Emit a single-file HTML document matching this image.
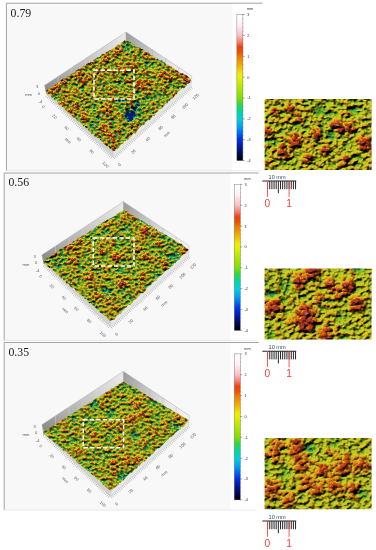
<!DOCTYPE html>
<html><head><meta charset="utf-8"><title>Surface topography</title>
<style>
html,body{margin:0;padding:0;background:#fff;}
body{width:376px;height:550px;overflow:hidden;font-family:"Liberation Sans",sans-serif;}
svg{display:block;}
.lab{font-family:"Liberation Serif",serif;font-size:11.8px;fill:#1c1c1c;}
.tk{font-family:"Liberation Sans",sans-serif;font-size:4.1px;fill:#5a5a5a;}
.cb{font-family:"Liberation Sans",sans-serif;font-size:3.8px;fill:#333;}
.mm{font-family:"Liberation Sans",sans-serif;font-size:5.6px;fill:#2c4f5e;}
.rd{font-family:"Liberation Sans",sans-serif;font-size:10.2px;fill:#ee4040;}
</style></head><body>
<svg width="376" height="550" viewBox="0 0 376 550">
<defs>
<linearGradient id="cbar" x1="0" y1="0" x2="0" y2="1">
<stop offset="0.000" stop-color="#ffffff"/>
<stop offset="0.071" stop-color="#fff0f0"/>
<stop offset="0.143" stop-color="#fbc0c0"/>
<stop offset="0.186" stop-color="#f68070"/>
<stop offset="0.221" stop-color="#f04010"/>
<stop offset="0.257" stop-color="#f05000"/>
<stop offset="0.286" stop-color="#f07800"/>
<stop offset="0.357" stop-color="#f0b800"/>
<stop offset="0.400" stop-color="#f0e800"/>
<stop offset="0.429" stop-color="#e8f000"/>
<stop offset="0.500" stop-color="#b0e800"/>
<stop offset="0.571" stop-color="#80e000"/>
<stop offset="0.614" stop-color="#30d840"/>
<stop offset="0.664" stop-color="#00d8a0"/>
<stop offset="0.714" stop-color="#00d0e0"/>
<stop offset="0.771" stop-color="#00a0f0"/>
<stop offset="0.829" stop-color="#0050f0"/>
<stop offset="0.857" stop-color="#0030e0"/>
<stop offset="0.929" stop-color="#001080"/>
<stop offset="1.000" stop-color="#000000"/>
</linearGradient>
<radialGradient id="pk"><stop offset="0" stop-color="#fff" stop-opacity="1"/><stop offset="0.5" stop-color="#fff" stop-opacity="0.55"/><stop offset="1" stop-color="#fff" stop-opacity="0"/></radialGradient>
<radialGradient id="vl"><stop offset="0" stop-color="#000" stop-opacity="1"/><stop offset="0.5" stop-color="#000" stop-opacity="0.55"/><stop offset="1" stop-color="#000" stop-opacity="0"/></radialGradient>
<radialGradient id="pt"><stop offset="0" stop-color="#000" stop-opacity="1"/><stop offset="0.6" stop-color="#000" stop-opacity="1"/><stop offset="1" stop-color="#000" stop-opacity="0"/></radialGradient>
<radialGradient id="pit"><stop offset="0" stop-color="#0a2a90"/><stop offset="0.45" stop-color="#1060b0" stop-opacity="0.95"/><stop offset="0.8" stop-color="#10a0a0" stop-opacity="0.5"/><stop offset="1" stop-color="#20b080" stop-opacity="0"/></radialGradient>
<radialGradient id="teal"><stop offset="0" stop-color="#10a0a0" stop-opacity="0.9"/><stop offset="1" stop-color="#30b060" stop-opacity="0"/></radialGradient>

<filter id="s0" x="0" y="0" width="1" height="1" color-interpolation-filters="sRGB">
<feTurbulence type="fractalNoise" baseFrequency="0.33 0.40" numOctaves="3" seed="3" result="n1"/>
<feTurbulence type="fractalNoise" baseFrequency="0.06 0.075" numOctaves="2" seed="10" result="n2"/>
<feColorMatrix in="n1" type="matrix" values="1 0 0 0 0  1 0 0 0 0  1 0 0 0 0  0 0 0 0 1" result="g1"/>
<feColorMatrix in="n2" type="matrix" values="1 0 0 0 0  1 0 0 0 0  1 0 0 0 0  0 0 0 0 1" result="g2"/>
<feComposite in="g1" in2="g2" operator="arithmetic" k1="0" k2="1.15" k3="0.45" k4="-0.345" result="ha"/>
<feComposite in="ha" in2="SourceGraphic" operator="arithmetic" k1="0" k2="1" k3="1.0" k4="-0.500" result="h"/>
<feComponentTransfer in="h" result="c">
<feFuncR type="table" tableValues="0.020 0.039 0.157 0.431 0.706 0.839 0.886 0.784 0.686 0.706 0.824"/>
<feFuncG type="table" tableValues="0.137 0.588 0.667 0.725 0.784 0.816 0.588 0.282 0.188 0.275 0.510"/>
<feFuncB type="table" tableValues="0.549 0.588 0.333 0.176 0.137 0.125 0.110 0.098 0.118 0.275 0.510"/>
<feFuncA type="linear" slope="0" intercept="1"/>
</feComponentTransfer>
<feColorMatrix in="h" type="matrix" values="0 0 0 0 0  0 0 0 0 0  0 0 0 0 0  1 0 0 0 0" result="bump"/>
<feDiffuseLighting in="bump" surfaceScale="2.3" diffuseConstant="1.16" lighting-color="#ffffff" result="l">
<feDistantLight azimuth="250" elevation="47"/>
</feDiffuseLighting>
<feComposite in="c" in2="l" operator="arithmetic" k1="1" k2="0" k3="0" k4="0" result="m"/>
<feGaussianBlur in="m" stdDeviation="0.5"/>
</filter>
<filter id="z0" x="0" y="0" width="1" height="1" color-interpolation-filters="sRGB">
<feTurbulence type="fractalNoise" baseFrequency="0.20 0.25" numOctaves="3" seed="53" result="n1"/>
<feTurbulence type="fractalNoise" baseFrequency="0.05 0.06" numOctaves="2" seed="60" result="n2"/>
<feColorMatrix in="n1" type="matrix" values="1 0 0 0 0  1 0 0 0 0  1 0 0 0 0  0 0 0 0 1" result="g1"/>
<feColorMatrix in="n2" type="matrix" values="1 0 0 0 0  1 0 0 0 0  1 0 0 0 0  0 0 0 0 1" result="g2"/>
<feComposite in="g1" in2="g2" operator="arithmetic" k1="0" k2="0.598" k3="0.18000000000000002" k4="0.081" result="ha"/>
<feComposite in="ha" in2="SourceGraphic" operator="arithmetic" k1="0" k2="1" k3="0.7" k4="-0.350" result="h"/>
<feComponentTransfer in="h" result="c">
<feFuncR type="table" tableValues="0.020 0.039 0.157 0.431 0.706 0.839 0.886 0.784 0.686 0.706 0.824"/>
<feFuncG type="table" tableValues="0.137 0.588 0.667 0.725 0.784 0.816 0.588 0.282 0.188 0.275 0.510"/>
<feFuncB type="table" tableValues="0.549 0.588 0.333 0.176 0.137 0.125 0.110 0.098 0.118 0.275 0.510"/>
<feFuncA type="linear" slope="0" intercept="1"/>
</feComponentTransfer>
<feColorMatrix in="h" type="matrix" values="0 0 0 0 0  0 0 0 0 0  0 0 0 0 0  1 0 0 0 0" result="bump"/>
<feDiffuseLighting in="bump" surfaceScale="6.6" diffuseConstant="1.22" lighting-color="#ffffff" result="l">
<feDistantLight azimuth="235" elevation="47"/>
</feDiffuseLighting>
<feComposite in="c" in2="l" operator="arithmetic" k1="1" k2="0" k3="0" k4="0" result="m"/>
<feGaussianBlur in="m" stdDeviation="0.55"/>
</filter>
<filter id="s1" x="0" y="0" width="1" height="1" color-interpolation-filters="sRGB">
<feTurbulence type="fractalNoise" baseFrequency="0.33 0.40" numOctaves="3" seed="11" result="n1"/>
<feTurbulence type="fractalNoise" baseFrequency="0.06 0.075" numOctaves="2" seed="18" result="n2"/>
<feColorMatrix in="n1" type="matrix" values="1 0 0 0 0  1 0 0 0 0  1 0 0 0 0  0 0 0 0 1" result="g1"/>
<feColorMatrix in="n2" type="matrix" values="1 0 0 0 0  1 0 0 0 0  1 0 0 0 0  0 0 0 0 1" result="g2"/>
<feComposite in="g1" in2="g2" operator="arithmetic" k1="0" k2="1.05" k3="0.42" k4="-0.295" result="ha"/>
<feComposite in="ha" in2="SourceGraphic" operator="arithmetic" k1="0" k2="1" k3="1.0" k4="-0.500" result="h"/>
<feComponentTransfer in="h" result="c">
<feFuncR type="table" tableValues="0.020 0.039 0.157 0.431 0.706 0.839 0.886 0.784 0.686 0.706 0.824"/>
<feFuncG type="table" tableValues="0.137 0.588 0.667 0.725 0.784 0.816 0.588 0.282 0.188 0.275 0.510"/>
<feFuncB type="table" tableValues="0.549 0.588 0.333 0.176 0.137 0.125 0.110 0.098 0.118 0.275 0.510"/>
<feFuncA type="linear" slope="0" intercept="1"/>
</feComponentTransfer>
<feColorMatrix in="h" type="matrix" values="0 0 0 0 0  0 0 0 0 0  0 0 0 0 0  1 0 0 0 0" result="bump"/>
<feDiffuseLighting in="bump" surfaceScale="2.3" diffuseConstant="1.16" lighting-color="#ffffff" result="l">
<feDistantLight azimuth="250" elevation="47"/>
</feDiffuseLighting>
<feComposite in="c" in2="l" operator="arithmetic" k1="1" k2="0" k3="0" k4="0" result="m"/>
<feGaussianBlur in="m" stdDeviation="0.5"/>
</filter>
<filter id="z1" x="0" y="0" width="1" height="1" color-interpolation-filters="sRGB">
<feTurbulence type="fractalNoise" baseFrequency="0.20 0.25" numOctaves="3" seed="61" result="n1"/>
<feTurbulence type="fractalNoise" baseFrequency="0.05 0.06" numOctaves="2" seed="68" result="n2"/>
<feColorMatrix in="n1" type="matrix" values="1 0 0 0 0  1 0 0 0 0  1 0 0 0 0  0 0 0 0 1" result="g1"/>
<feColorMatrix in="n2" type="matrix" values="1 0 0 0 0  1 0 0 0 0  1 0 0 0 0  0 0 0 0 1" result="g2"/>
<feComposite in="g1" in2="g2" operator="arithmetic" k1="0" k2="0.546" k3="0.168" k4="0.108" result="ha"/>
<feComposite in="ha" in2="SourceGraphic" operator="arithmetic" k1="0" k2="1" k3="0.7" k4="-0.350" result="h"/>
<feComponentTransfer in="h" result="c">
<feFuncR type="table" tableValues="0.020 0.039 0.157 0.431 0.706 0.839 0.886 0.784 0.686 0.706 0.824"/>
<feFuncG type="table" tableValues="0.137 0.588 0.667 0.725 0.784 0.816 0.588 0.282 0.188 0.275 0.510"/>
<feFuncB type="table" tableValues="0.549 0.588 0.333 0.176 0.137 0.125 0.110 0.098 0.118 0.275 0.510"/>
<feFuncA type="linear" slope="0" intercept="1"/>
</feComponentTransfer>
<feColorMatrix in="h" type="matrix" values="0 0 0 0 0  0 0 0 0 0  0 0 0 0 0  1 0 0 0 0" result="bump"/>
<feDiffuseLighting in="bump" surfaceScale="6.6" diffuseConstant="1.22" lighting-color="#ffffff" result="l">
<feDistantLight azimuth="235" elevation="47"/>
</feDiffuseLighting>
<feComposite in="c" in2="l" operator="arithmetic" k1="1" k2="0" k3="0" k4="0" result="m"/>
<feGaussianBlur in="m" stdDeviation="0.55"/>
</filter>
<filter id="s2" x="0" y="0" width="1" height="1" color-interpolation-filters="sRGB">
<feTurbulence type="fractalNoise" baseFrequency="0.33 0.40" numOctaves="3" seed="23" result="n1"/>
<feTurbulence type="fractalNoise" baseFrequency="0.06 0.075" numOctaves="2" seed="30" result="n2"/>
<feColorMatrix in="n1" type="matrix" values="1 0 0 0 0  1 0 0 0 0  1 0 0 0 0  0 0 0 0 1" result="g1"/>
<feColorMatrix in="n2" type="matrix" values="1 0 0 0 0  1 0 0 0 0  1 0 0 0 0  0 0 0 0 1" result="g2"/>
<feComposite in="g1" in2="g2" operator="arithmetic" k1="0" k2="0.95" k3="0.36" k4="-0.230" result="ha"/>
<feComposite in="ha" in2="SourceGraphic" operator="arithmetic" k1="0" k2="1" k3="1.0" k4="-0.500" result="h"/>
<feComponentTransfer in="h" result="c">
<feFuncR type="table" tableValues="0.020 0.039 0.157 0.431 0.706 0.839 0.886 0.784 0.686 0.706 0.824"/>
<feFuncG type="table" tableValues="0.137 0.588 0.667 0.725 0.784 0.816 0.588 0.282 0.188 0.275 0.510"/>
<feFuncB type="table" tableValues="0.549 0.588 0.333 0.176 0.137 0.125 0.110 0.098 0.118 0.275 0.510"/>
<feFuncA type="linear" slope="0" intercept="1"/>
</feComponentTransfer>
<feColorMatrix in="h" type="matrix" values="0 0 0 0 0  0 0 0 0 0  0 0 0 0 0  1 0 0 0 0" result="bump"/>
<feDiffuseLighting in="bump" surfaceScale="2.3" diffuseConstant="1.16" lighting-color="#ffffff" result="l">
<feDistantLight azimuth="250" elevation="47"/>
</feDiffuseLighting>
<feComposite in="c" in2="l" operator="arithmetic" k1="1" k2="0" k3="0" k4="0" result="m"/>
<feGaussianBlur in="m" stdDeviation="0.5"/>
</filter>
<filter id="z2" x="0" y="0" width="1" height="1" color-interpolation-filters="sRGB">
<feTurbulence type="fractalNoise" baseFrequency="0.20 0.25" numOctaves="3" seed="73" result="n1"/>
<feTurbulence type="fractalNoise" baseFrequency="0.05 0.06" numOctaves="2" seed="80" result="n2"/>
<feColorMatrix in="n1" type="matrix" values="1 0 0 0 0  1 0 0 0 0  1 0 0 0 0  0 0 0 0 1" result="g1"/>
<feColorMatrix in="n2" type="matrix" values="1 0 0 0 0  1 0 0 0 0  1 0 0 0 0  0 0 0 0 1" result="g2"/>
<feComposite in="g1" in2="g2" operator="arithmetic" k1="0" k2="0.494" k3="0.144" k4="0.131" result="ha"/>
<feComposite in="ha" in2="SourceGraphic" operator="arithmetic" k1="0" k2="1" k3="0.6" k4="-0.300" result="h"/>
<feComponentTransfer in="h" result="c">
<feFuncR type="table" tableValues="0.020 0.039 0.157 0.431 0.706 0.839 0.886 0.784 0.686 0.706 0.824"/>
<feFuncG type="table" tableValues="0.137 0.588 0.667 0.725 0.784 0.816 0.588 0.282 0.188 0.275 0.510"/>
<feFuncB type="table" tableValues="0.549 0.588 0.333 0.176 0.137 0.125 0.110 0.098 0.118 0.275 0.510"/>
<feFuncA type="linear" slope="0" intercept="1"/>
</feComponentTransfer>
<feColorMatrix in="h" type="matrix" values="0 0 0 0 0  0 0 0 0 0  0 0 0 0 0  1 0 0 0 0" result="bump"/>
<feDiffuseLighting in="bump" surfaceScale="6.6" diffuseConstant="1.22" lighting-color="#ffffff" result="l">
<feDistantLight azimuth="235" elevation="47"/>
</feDiffuseLighting>
<feComposite in="c" in2="l" operator="arithmetic" k1="1" k2="0" k3="0" k4="0" result="m"/>
<feGaussianBlur in="m" stdDeviation="0.55"/>
</filter>
</defs>
<rect x="0" y="0" width="376" height="550" fill="#ffffff"/>
<rect x="6.4" y="3.2" width="226" height="167.6" fill="#f8f8f8"/>
<path d="M262.7,3.2 H6.4 V170.79999999999998" fill="none" stroke="#9a9a9a" stroke-width="0.9"/>
<path d="M6.4,170.79999999999998 H260.7" fill="none" stroke="#e4e4e4" stroke-width="0.8"/>
<text class="lab" x="10.6" y="16.5">0.79</text>
<linearGradient id="wl0" gradientUnits="userSpaceOnUse" x1="44.5" y1="85.4" x2="126.0" y2="32.1"><stop offset="0" stop-color="#8c8c8c"/><stop offset="0.22" stop-color="#aaaaaa"/><stop offset="0.6" stop-color="#cdcdcd"/><stop offset="1" stop-color="#ececec"/></linearGradient>
<linearGradient id="wr0" gradientUnits="userSpaceOnUse" x1="126.0" y1="32.1" x2="191.9" y2="76.3"><stop offset="0" stop-color="#9a9a9a"/><stop offset="0.35" stop-color="#c2c2c2"/><stop offset="0.7" stop-color="#e6e6e6"/><stop offset="1" stop-color="#f4f4f4"/></linearGradient>
<polygon points="44.5,85.4 126.0,32.1 126.0,43.7 46.1,94.0" fill="url(#wl0)"/>
<polygon points="126.0,32.1 191.9,76.3 191.1,82.5 126.0,43.7" fill="url(#wr0)"/>
<path d="M44.5,85.4 L126.0,32.1 L191.9,76.3 M126.0,32.1 v8.6" fill="none" stroke="#a4a4a4" stroke-width="0.45"/>
<path d="M58.1,76.5 v8.6 M71.7,67.6 v8.6 M85.2,58.8 v8.6 M98.8,49.9 v8.6 M112.4,41.0 v8.6" stroke="#dcdcdc" stroke-width="0.4" fill="none"/>
<path d="M139.2,40.9 v7.6 M152.4,49.8 v7.6 M165.5,58.6 v7.6 M178.7,67.5 v7.6" stroke="#b4b4b4" stroke-width="0.4" fill="none"/>
<polygon points="44.5,85.4 46.1,91.0 113.6,150.9 113.1,157.1 47.2,95.0" fill="#d2d2d2"/>
<polygon points="113.6,150.9 191.1,79.5 191.9,76.3 190.9,86.5 113.1,157.1" fill="#e6e6e6"/>
<path d="M44.5,85.4 L47.2,95.0 L113.1,157.1 L190.9,86.5 L191.9,76.3" fill="none" stroke="#b4b4b4" stroke-width="0.4"/>
<path d="M113.6,150.9 L113.1,157.1" stroke="#bdbdbd" stroke-width="0.4"/>
<path d="M46.2,96.1 L112.1,158.2" stroke="#8a8a8a" stroke-width="2.2" stroke-dasharray="0.4 1.5" fill="none"/>
<path d="M114.1,158.2 L191.9,87.6" stroke="#8a8a8a" stroke-width="2.2" stroke-dasharray="0.4 1.5" fill="none"/>
<text class="tk" text-anchor="middle" transform="translate(43.4,106.6) rotate(42)" x="0" y="1.4">0</text>
<text class="tk" text-anchor="middle" transform="translate(54.6,116.6) rotate(42)" x="0" y="1.4">20</text>
<text class="tk" text-anchor="middle" transform="translate(66.5,128.0) rotate(42)" x="0" y="1.4">40</text>
<text class="tk" text-anchor="middle" transform="translate(67.9,140.8) rotate(42)" x="0" y="1.4">mm</text>
<text class="tk" text-anchor="middle" transform="translate(79.0,139.2) rotate(42)" x="0" y="1.4">60</text>
<text class="tk" text-anchor="middle" transform="translate(91.8,151.4) rotate(42)" x="0" y="1.4">80</text>
<text class="tk" text-anchor="middle" transform="translate(105.6,164.6) rotate(42)" x="0" y="1.4">100</text>
<text class="tk" text-anchor="middle" transform="translate(119.3,164.6) rotate(-42)" x="0" y="1.4">0</text>
<text class="tk" text-anchor="middle" transform="translate(133.4,151.8) rotate(-42)" x="0" y="1.4">20</text>
<text class="tk" text-anchor="middle" transform="translate(147.8,139.2) rotate(-42)" x="0" y="1.4">40</text>
<text class="tk" text-anchor="middle" transform="translate(160.5,128.0) rotate(-42)" x="0" y="1.4">60</text>
<text class="tk" text-anchor="middle" transform="translate(166.8,134.2) rotate(-42)" x="0" y="1.4">mm</text>
<text class="tk" text-anchor="middle" transform="translate(173.3,116.8) rotate(-42)" x="0" y="1.4">80</text>
<text class="tk" text-anchor="middle" transform="translate(185.0,106.2) rotate(-42)" x="0" y="1.4">100</text>
<text class="tk" text-anchor="middle" transform="translate(195.6,96.6) rotate(-42)" x="0" y="1.4">120</text>
<text class="tk" text-anchor="middle" transform="translate(37.2,86.9) rotate(0)" x="0" y="1.4">3</text>
<text class="tk" text-anchor="middle" transform="translate(38.8,93.4) rotate(0)" x="0" y="1.4">0</text>
<text class="tk" text-anchor="middle" transform="translate(40.4,101.2) rotate(0)" x="0" y="1.4">-4</text>
<text class="tk" text-anchor="middle" transform="translate(28.6,95.0) rotate(0)" x="0" y="1.4">mm</text>
<clipPath id="cp0"><polygon points="46.1,91.0 47.5,88.8 48.8,89.1 50.2,87.4 51.5,86.8 52.9,85.9 54.2,85.6 55.6,83.9 56.9,84.1 58.3,81.7 59.6,82.3 61.0,79.9 62.4,79.1 63.7,78.2 65.1,78.4 66.4,77.5 67.8,76.3 69.1,75.4 70.5,74.4 71.8,73.6 73.2,73.4 74.5,72.6 75.9,70.5 77.2,70.3 78.6,68.8 80.0,69.5 81.3,67.3 82.7,66.8 84.0,65.8 85.4,65.7 86.7,64.0 88.1,62.7 89.4,63.3 90.8,61.8 92.1,61.8 93.5,60.0 94.9,59.0 96.2,57.9 97.6,57.6 98.9,57.6 100.3,56.4 101.6,54.5 103.0,53.8 104.3,54.1 105.7,51.7 107.0,52.2 108.4,51.0 109.7,49.9 111.1,50.1 112.5,48.4 113.8,48.0 115.2,47.4 116.5,46.1 117.9,44.5 119.2,44.4 120.6,44.0 121.9,42.3 123.3,41.2 124.6,40.1 126.0,40.7 127.4,40.9 128.8,41.4 130.2,41.9 131.5,42.4 132.9,44.0 134.3,44.6 135.7,46.4 137.1,47.3 138.5,47.8 139.9,47.6 141.2,49.1 142.6,49.2 144.0,50.2 145.4,51.3 146.8,52.3 148.2,52.5 149.5,53.0 150.9,55.2 152.3,55.3 153.7,56.5 155.1,57.6 156.5,58.3 157.9,58.7 159.2,60.3 160.6,60.7 162.0,60.3 163.4,61.5 164.8,62.6 166.2,64.5 167.6,64.6 168.9,65.2 170.3,66.7 171.7,66.3 173.1,68.4 174.5,68.8 175.9,70.0 177.2,70.6 178.6,72.0 180.0,72.7 181.4,73.0 182.8,73.3 184.2,74.2 185.6,74.8 186.9,75.3 188.3,76.7 189.7,77.7 191.1,79.5 189.9,82.8 188.7,83.6 187.5,83.5 186.3,85.9 185.1,87.3 183.9,88.5 182.8,87.7 181.6,88.5 180.4,89.5 179.2,91.3 178.0,91.8 176.8,94.3 175.6,94.2 174.4,96.2 173.2,97.9 172.0,98.6 170.8,98.6 169.6,101.6 168.4,100.9 167.3,104.0 166.1,103.1 164.9,104.9 163.7,105.9 162.5,107.5 161.3,109.6 160.1,108.6 158.9,110.4 157.7,111.5 156.5,112.4 155.3,114.8 154.1,116.2 152.9,115.0 151.8,117.2 150.6,119.5 149.4,120.2 148.2,120.1 147.0,120.9 145.8,121.9 144.6,124.2 143.4,125.1 142.2,125.3 141.0,126.6 139.8,127.0 138.6,129.0 137.4,130.6 136.3,132.6 135.1,133.7 133.9,132.9 132.7,134.1 131.5,136.0 130.3,137.4 129.1,138.7 127.9,140.4 126.7,140.1 125.5,141.0 124.3,141.1 123.1,143.8 121.9,143.8 120.8,144.6 119.6,146.9 118.4,148.3 117.2,149.4 116.0,149.0 114.8,151.0 113.6,150.9 112.4,150.5 111.2,149.5 110.0,149.6 108.8,147.1 107.6,146.0 106.4,146.6 105.2,144.5 104.0,144.3 102.8,141.7 101.5,141.7 100.3,139.7 99.1,138.3 97.9,138.1 96.7,137.8 95.5,137.1 94.3,136.2 93.1,133.0 91.9,134.2 90.7,132.4 89.5,131.6 88.3,130.6 87.1,128.0 85.9,128.5 84.7,125.6 83.5,126.6 82.3,125.0 81.1,123.4 79.8,121.4 78.6,121.6 77.4,121.2 76.2,119.0 75.0,117.3 73.8,117.7 72.6,116.6 71.4,115.2 70.2,114.2 69.0,113.4 67.8,112.5 66.6,110.7 65.4,110.3 64.2,108.2 63.0,107.2 61.8,106.4 60.6,104.6 59.4,105.2 58.2,104.3 56.9,100.7 55.7,99.8 54.5,100.5 53.3,98.1 52.1,98.7 50.9,95.4 49.7,94.3 48.5,94.7 47.3,94.5"/></clipPath>
<g clip-path="url(#cp0)"><g filter="url(#s0)"><rect x="40.1" y="34.7" width="157.0" height="122.2" fill="#808080"/>
<circle cx="89" cy="62.3" r="6.8" fill="url(#pk)" opacity="0.55"/><circle cx="79.5" cy="73" r="6.8" fill="url(#pk)" opacity="0.55"/><circle cx="82" cy="81.4" r="5.4" fill="url(#pk)" opacity="0.55"/><circle cx="64" cy="81.4" r="6.8" fill="url(#pk)" opacity="0.55"/><circle cx="51" cy="92.2" r="5.4" fill="url(#pk)" opacity="0.55"/><circle cx="71" cy="93.4" r="5.4" fill="url(#pk)" opacity="0.55"/><circle cx="64" cy="102" r="5.4" fill="url(#pk)" opacity="0.55"/><circle cx="76" cy="106.6" r="5.4" fill="url(#pk)" opacity="0.55"/><circle cx="107" cy="61" r="5.4" fill="url(#pk)" opacity="0.55"/><circle cx="119" cy="49" r="5.4" fill="url(#pk)" opacity="0.55"/><circle cx="102" cy="125.7" r="5.4" fill="url(#pk)" opacity="0.55"/><circle cx="109.4" cy="135.3" r="5.4" fill="url(#pk)" opacity="0.55"/><circle cx="114.2" cy="142.4" r="5.4" fill="url(#pk)" opacity="0.55"/><circle cx="85.5" cy="118.5" r="4.7" fill="url(#pk)" opacity="0.55"/><circle cx="181.8" cy="76.7" r="6.8" fill="url(#pk)" opacity="0.55"/><circle cx="186.6" cy="81.4" r="5.4" fill="url(#pk)" opacity="0.55"/><circle cx="161.4" cy="74.3" r="6.1" fill="url(#pk)" opacity="0.55"/><circle cx="169.8" cy="77.8" r="5.4" fill="url(#pk)" opacity="0.55"/><circle cx="134" cy="66" r="5.4" fill="url(#pk)" opacity="0.55"/><circle cx="140" cy="86.2" r="5.4" fill="url(#pk)" opacity="0.55"/><circle cx="128" cy="81.4" r="4.7" fill="url(#pk)" opacity="0.55"/><circle cx="117.2" cy="54" r="5.4" fill="url(#pk)" opacity="0.55"/><circle cx="138.7" cy="46.7" r="5.4" fill="url(#pk)" opacity="0.55"/><circle cx="146" cy="54" r="5.4" fill="url(#pk)" opacity="0.55"/><circle cx="119.6" cy="130.5" r="5.4" fill="url(#pk)" opacity="0.55"/><circle cx="174.6" cy="92.2" r="5.4" fill="url(#pk)" opacity="0.55"/><circle cx="58" cy="88" r="5.4" fill="url(#pk)" opacity="0.55"/><circle cx="72" cy="66" r="5.4" fill="url(#pk)" opacity="0.55"/>
<circle cx="97.4" cy="118.5" r="9.5" fill="url(#vl)" opacity="0.33"/><circle cx="91.4" cy="124.5" r="6.8" fill="url(#vl)" opacity="0.33"/><circle cx="119" cy="109" r="6.8" fill="url(#vl)" opacity="0.33"/><circle cx="123.7" cy="130.5" r="6.8" fill="url(#vl)" opacity="0.33"/><circle cx="71" cy="84" r="4.1" fill="url(#vl)" opacity="0.33"/><circle cx="54.4" cy="95.8" r="4.1" fill="url(#vl)" opacity="0.33"/><circle cx="124.4" cy="45.6" r="6.8" fill="url(#vl)" opacity="0.33"/><circle cx="152" cy="66" r="6.8" fill="url(#vl)" opacity="0.33"/><circle cx="157.8" cy="94.6" r="7.4" fill="url(#vl)" opacity="0.33"/><circle cx="147" cy="98" r="5.4" fill="url(#vl)" opacity="0.33"/><circle cx="165" cy="61" r="6.1" fill="url(#vl)" opacity="0.33"/><circle cx="122" cy="101.8" r="6.8" fill="url(#vl)" opacity="0.33"/><circle cx="143.5" cy="124" r="6.1" fill="url(#vl)" opacity="0.33"/><circle cx="151.5" cy="111.3" r="5.4" fill="url(#vl)" opacity="0.33"/><circle cx="137.2" cy="103.5" r="4.1" fill="url(#vl)" opacity="0.95"/><circle cx="135" cy="108.5" r="3.8" fill="url(#vl)" opacity="0.85"/><circle cx="137" cy="101.5" r="2.7" fill="url(#vl)" opacity="1.00"/><circle cx="137" cy="101.5" r="2.7" fill="url(#vl)" opacity="0.40"/><circle cx="130.6" cy="116" r="9.7" fill="url(#vl)" opacity="0.75"/>
<circle cx="130.3" cy="116.1" r="5.6" fill="url(#pt)" opacity="1.00"/><circle cx="130.5" cy="116.3" r="4.0" fill="url(#pt)" opacity="1.00"/><circle cx="130.5" cy="116.3" r="4.0" fill="url(#pt)" opacity="1.00"/>
</g></g>
<rect x="94" y="70.2" width="40.0" height="28.8" fill="none" stroke="#ffffff" stroke-width="1.5" stroke-dasharray="4.3 2.2"/>
<rect x="236.9" y="14.6" width="6" height="146.0" fill="url(#cbar)" stroke="#555" stroke-width="0.35"/>
<text class="cb" x="246.9" y="10.2">mm</text>
<path d="M242.9,14.60 h2" stroke="#444" stroke-width="0.4"/>
<text class="cb" x="247.2" y="16.00">3</text>
<path d="M242.9,35.46 h2" stroke="#444" stroke-width="0.4"/>
<text class="cb" x="247.2" y="36.86">2</text>
<path d="M242.9,56.31 h2" stroke="#444" stroke-width="0.4"/>
<text class="cb" x="247.2" y="57.71">1</text>
<path d="M242.9,77.17 h2" stroke="#444" stroke-width="0.4"/>
<text class="cb" x="247.2" y="78.57">0</text>
<path d="M242.9,98.03 h2" stroke="#444" stroke-width="0.4"/>
<text class="cb" x="247.2" y="99.43">-1</text>
<path d="M242.9,118.89 h2" stroke="#444" stroke-width="0.4"/>
<text class="cb" x="247.2" y="120.29">-2</text>
<path d="M242.9,139.74 h2" stroke="#444" stroke-width="0.4"/>
<text class="cb" x="247.2" y="141.14">-3</text>
<path d="M242.9,160.60 h2" stroke="#444" stroke-width="0.4"/>
<text class="cb" x="247.2" y="162.00">-4</text>
<path d="M242.9,14.60 h1 M242.9,18.77 h1 M242.9,22.94 h1 M242.9,27.11 h1 M242.9,31.29 h1 M242.9,35.46 h1 M242.9,39.63 h1 M242.9,43.80 h1 M242.9,47.97 h1 M242.9,52.14 h1 M242.9,56.31 h1 M242.9,60.49 h1 M242.9,64.66 h1 M242.9,68.83 h1 M242.9,73.00 h1 M242.9,77.17 h1 M242.9,81.34 h1 M242.9,85.51 h1 M242.9,89.69 h1 M242.9,93.86 h1 M242.9,98.03 h1 M242.9,102.20 h1 M242.9,106.37 h1 M242.9,110.54 h1 M242.9,114.71 h1 M242.9,118.89 h1 M242.9,123.06 h1 M242.9,127.23 h1 M242.9,131.40 h1 M242.9,135.57 h1 M242.9,139.74 h1 M242.9,143.91 h1 M242.9,148.09 h1 M242.9,152.26 h1 M242.9,156.43 h1 M242.9,160.60 h1" stroke="#666" stroke-width="0.3"/>
<clipPath id="ci0"><rect x="264.6" y="98.9" width="107" height="71.2"/></clipPath>
<g clip-path="url(#ci0)"><g filter="url(#z0)"><rect x="258.6" y="92.9" width="119" height="83.2" fill="#808080"/>
<circle cx="336.4" cy="127.3" r="10.1" fill="url(#pk)" opacity="1.00"/><circle cx="336.4" cy="127.3" r="10.1" fill="url(#pk)" opacity="0.50"/><circle cx="294.7" cy="140.6" r="9.3" fill="url(#pk)" opacity="1.00"/><circle cx="294.7" cy="140.6" r="9.3" fill="url(#pk)" opacity="0.20"/><circle cx="284.3" cy="152.5" r="10.1" fill="url(#pk)" opacity="1.00"/><circle cx="284.3" cy="152.5" r="10.1" fill="url(#pk)" opacity="0.30"/><circle cx="364.7" cy="143.6" r="10.1" fill="url(#pk)" opacity="1.00"/><circle cx="364.7" cy="143.6" r="10.1" fill="url(#pk)" opacity="0.30"/><circle cx="268" cy="131.7" r="7.8" fill="url(#pk)" opacity="1.00"/><circle cx="317" cy="134.7" r="7.8" fill="url(#pk)" opacity="1.00"/><circle cx="300" cy="118" r="7.0" fill="url(#pk)" opacity="0.80"/><circle cx="290" cy="108" r="7.0" fill="url(#pk)" opacity="0.80"/><circle cx="350" cy="128" r="7.0" fill="url(#pk)" opacity="0.80"/><circle cx="325" cy="150" r="7.8" fill="url(#pk)" opacity="0.90"/><circle cx="345" cy="160" r="7.8" fill="url(#pk)" opacity="0.90"/><circle cx="308" cy="158" r="7.0" fill="url(#pk)" opacity="0.80"/><circle cx="275" cy="112" r="6.2" fill="url(#pk)" opacity="0.70"/>
<circle cx="318.5" cy="109.4" r="8.2" fill="url(#vl)" opacity="0.74"/><circle cx="332" cy="133" r="7.5" fill="url(#vl)" opacity="0.74"/><circle cx="272.4" cy="140.6" r="7.5" fill="url(#vl)" opacity="0.62"/><circle cx="354" cy="111" r="7.5" fill="url(#vl)" opacity="0.62"/><circle cx="328" cy="118" r="6.0" fill="url(#vl)" opacity="0.50"/><circle cx="300" cy="128" r="6.0" fill="url(#vl)" opacity="0.37"/><circle cx="360" cy="160" r="6.0" fill="url(#vl)" opacity="0.43"/>
</g></g>
<text class="mm" x="268.6" y="178.7">10 mm</text>
<path d="M262.3,181.0 H296.2" stroke="#262626" stroke-width="1.1"/>
<path d="M267.60,181.0 v8.2 M269.75,181.0 v8.2 M271.90,181.0 v8.2 M274.05,181.0 v8.2 M276.20,181.0 v8.2 M278.35,181.0 v12.2 M280.50,181.0 v8.2 M282.65,181.0 v8.2 M284.80,181.0 v8.2 M286.95,181.0 v8.2 M289.10,181.0 v8.2 M291.25,181.0 v8.2 M293.40,181.0 v8.2 M295.55,181.0 v8.2" stroke="#262626" stroke-width="1.0"/>
<path d="M267.5,181.0 v15.8 M289.1,181.0 v15.8" stroke="#ee4a4a" stroke-width="0.9"/>
<text class="rd" x="264.4" y="207.2">0</text>
<text class="rd" x="286.2" y="207.2">1</text>
<rect x="4.2" y="173.0" width="226" height="167.4" fill="#f8f8f8"/>
<path d="M258.6,173.0 H4.2 V340.4" fill="none" stroke="#9a9a9a" stroke-width="0.9"/>
<path d="M4.2,340.4 H256.6" fill="none" stroke="#e4e4e4" stroke-width="0.8"/>
<text class="lab" x="8.4" y="186.3">0.56</text>
<linearGradient id="wl1" gradientUnits="userSpaceOnUse" x1="41.9" y1="255.0" x2="123.4" y2="201.7"><stop offset="0" stop-color="#8c8c8c"/><stop offset="0.22" stop-color="#aaaaaa"/><stop offset="0.6" stop-color="#cdcdcd"/><stop offset="1" stop-color="#ececec"/></linearGradient>
<linearGradient id="wr1" gradientUnits="userSpaceOnUse" x1="123.4" y1="201.7" x2="189.3" y2="245.9"><stop offset="0" stop-color="#9a9a9a"/><stop offset="0.35" stop-color="#c2c2c2"/><stop offset="0.7" stop-color="#e6e6e6"/><stop offset="1" stop-color="#f4f4f4"/></linearGradient>
<polygon points="41.9,255.0 123.4,201.7 123.4,213.7 43.5,264.0" fill="url(#wl1)"/>
<polygon points="123.4,201.7 189.3,245.9 188.5,252.5 123.4,213.7" fill="url(#wr1)"/>
<path d="M41.9,255.0 L123.4,201.7 L189.3,245.9 M123.4,201.7 v9.0" fill="none" stroke="#a4a4a4" stroke-width="0.45"/>
<path d="M55.5,246.1 v9.0 M69.1,237.2 v9.0 M82.7,228.3 v9.0 M96.2,219.5 v9.0 M109.8,210.6 v9.0" stroke="#dcdcdc" stroke-width="0.4" fill="none"/>
<path d="M136.6,210.5 v8.0 M149.8,219.4 v8.0 M162.9,228.2 v8.0 M176.1,237.1 v8.0" stroke="#b4b4b4" stroke-width="0.4" fill="none"/>
<polygon points="41.9,255.0 43.5,261.0 111.0,320.5 110.5,326.7 44.6,264.6" fill="#d2d2d2"/>
<polygon points="111.0,320.5 188.5,249.5 189.3,245.9 188.3,256.1 110.5,326.7" fill="#e6e6e6"/>
<path d="M41.9,255.0 L44.6,264.6 L110.5,326.7 L188.3,256.1 L189.3,245.9" fill="none" stroke="#b4b4b4" stroke-width="0.4"/>
<path d="M111.0,320.5 L110.5,326.7" stroke="#bdbdbd" stroke-width="0.4"/>
<path d="M43.6,265.7 L109.5,327.8" stroke="#8a8a8a" stroke-width="2.2" stroke-dasharray="0.4 1.5" fill="none"/>
<path d="M111.5,327.8 L189.3,257.2" stroke="#8a8a8a" stroke-width="2.2" stroke-dasharray="0.4 1.5" fill="none"/>
<text class="tk" text-anchor="middle" transform="translate(40.8,276.2) rotate(42)" x="0" y="1.4">0</text>
<text class="tk" text-anchor="middle" transform="translate(52.0,286.2) rotate(42)" x="0" y="1.4">20</text>
<text class="tk" text-anchor="middle" transform="translate(63.9,297.6) rotate(42)" x="0" y="1.4">40</text>
<text class="tk" text-anchor="middle" transform="translate(65.3,310.4) rotate(42)" x="0" y="1.4">mm</text>
<text class="tk" text-anchor="middle" transform="translate(76.4,308.8) rotate(42)" x="0" y="1.4">60</text>
<text class="tk" text-anchor="middle" transform="translate(89.2,321.0) rotate(42)" x="0" y="1.4">80</text>
<text class="tk" text-anchor="middle" transform="translate(103.0,334.2) rotate(42)" x="0" y="1.4">100</text>
<text class="tk" text-anchor="middle" transform="translate(116.7,334.2) rotate(-42)" x="0" y="1.4">0</text>
<text class="tk" text-anchor="middle" transform="translate(130.8,321.4) rotate(-42)" x="0" y="1.4">20</text>
<text class="tk" text-anchor="middle" transform="translate(145.2,308.8) rotate(-42)" x="0" y="1.4">40</text>
<text class="tk" text-anchor="middle" transform="translate(157.9,297.6) rotate(-42)" x="0" y="1.4">60</text>
<text class="tk" text-anchor="middle" transform="translate(164.2,303.8) rotate(-42)" x="0" y="1.4">mm</text>
<text class="tk" text-anchor="middle" transform="translate(170.7,286.4) rotate(-42)" x="0" y="1.4">80</text>
<text class="tk" text-anchor="middle" transform="translate(182.4,275.8) rotate(-42)" x="0" y="1.4">100</text>
<text class="tk" text-anchor="middle" transform="translate(193.0,266.2) rotate(-42)" x="0" y="1.4">120</text>
<text class="tk" text-anchor="middle" transform="translate(34.6,256.5) rotate(0)" x="0" y="1.4">3</text>
<text class="tk" text-anchor="middle" transform="translate(36.2,263.0) rotate(0)" x="0" y="1.4">0</text>
<text class="tk" text-anchor="middle" transform="translate(37.8,270.8) rotate(0)" x="0" y="1.4">-4</text>
<text class="tk" text-anchor="middle" transform="translate(26.0,264.6) rotate(0)" x="0" y="1.4">mm</text>
<clipPath id="cp1"><polygon points="43.5,261.0 44.9,259.9 46.2,258.3 47.6,257.0 48.9,256.2 50.3,256.6 51.6,255.4 53.0,254.1 54.3,253.3 55.7,252.7 57.0,251.9 58.4,250.7 59.8,249.3 61.1,248.5 62.5,248.1 63.8,246.9 65.2,246.5 66.5,246.1 67.9,245.6 69.2,244.2 70.6,243.5 71.9,242.8 73.3,241.3 74.6,241.2 76.0,239.9 77.4,238.4 78.7,237.8 80.1,237.4 81.4,236.6 82.8,235.1 84.1,235.1 85.5,234.2 86.8,233.5 88.2,232.6 89.5,231.5 90.9,229.6 92.3,230.2 93.6,229.3 95.0,228.1 96.3,226.2 97.7,226.2 99.0,224.5 100.4,225.0 101.7,223.2 103.1,222.0 104.4,221.6 105.8,220.4 107.1,219.8 108.5,219.5 109.9,218.5 111.2,217.9 112.6,217.0 113.9,216.6 115.3,215.8 116.6,213.8 118.0,213.5 119.3,212.1 120.7,211.8 122.0,211.0 123.4,210.7 124.8,209.9 126.2,211.0 127.6,211.7 128.9,213.5 130.3,213.4 131.7,214.5 133.1,215.4 134.5,216.1 135.9,217.5 137.3,218.1 138.6,218.8 140.0,219.7 141.4,220.3 142.8,221.2 144.2,222.1 145.6,223.1 146.9,223.5 148.3,225.4 149.7,225.1 151.1,226.1 152.5,226.6 153.9,227.6 155.3,229.2 156.6,229.1 158.0,231.2 159.4,231.6 160.8,232.5 162.2,232.4 163.6,233.9 165.0,234.4 166.3,235.0 167.7,235.7 169.1,237.1 170.5,237.8 171.9,238.4 173.3,238.9 174.6,240.0 176.0,241.5 177.4,241.6 178.8,243.2 180.2,243.3 181.6,243.8 183.0,245.8 184.3,245.9 185.7,247.7 187.1,248.5 188.5,249.5 187.3,252.0 186.1,252.9 184.9,253.8 183.7,254.6 182.5,255.2 181.3,256.2 180.2,257.9 179.0,260.2 177.8,260.3 176.6,261.2 175.4,263.3 174.2,263.1 173.0,265.7 171.8,266.0 170.6,267.8 169.4,268.6 168.2,269.8 167.0,269.9 165.8,270.8 164.7,271.6 163.5,273.2 162.3,274.3 161.1,275.5 159.9,276.3 158.7,277.5 157.5,278.1 156.3,280.7 155.1,280.3 153.9,282.0 152.7,283.1 151.5,284.4 150.3,285.6 149.2,285.8 148.0,286.8 146.8,288.6 145.6,290.9 144.4,291.9 143.2,293.2 142.0,293.2 140.8,293.5 139.6,295.0 138.4,296.4 137.2,297.4 136.0,299.6 134.8,299.9 133.7,299.9 132.5,303.0 131.3,303.8 130.1,305.0 128.9,304.5 127.7,305.4 126.5,307.3 125.3,307.9 124.1,310.1 122.9,310.7 121.7,312.3 120.5,313.7 119.3,313.7 118.2,315.0 117.0,315.7 115.8,317.0 114.6,319.4 113.4,319.7 112.2,320.1 111.0,320.5 109.8,320.5 108.6,320.0 107.4,318.3 106.2,316.6 105.0,316.2 103.8,315.3 102.6,314.3 101.4,313.3 100.2,312.7 98.9,311.1 97.7,310.2 96.5,309.3 95.3,307.7 94.1,306.0 92.9,305.3 91.7,305.3 90.5,302.7 89.3,303.4 88.1,301.7 86.9,299.3 85.7,299.2 84.5,299.0 83.3,296.1 82.1,296.2 80.9,294.4 79.7,294.8 78.5,292.6 77.2,292.7 76.0,291.5 74.8,289.0 73.6,287.6 72.4,288.2 71.2,287.2 70.0,286.4 68.8,283.8 67.6,283.2 66.4,283.4 65.2,280.6 64.0,281.3 62.8,278.4 61.6,278.6 60.4,277.8 59.2,275.8 58.0,273.9 56.8,274.9 55.6,272.5 54.3,271.7 53.1,270.5 51.9,268.9 50.7,267.6 49.5,267.9 48.3,266.8 47.1,266.1 45.9,264.3 44.7,264.0"/></clipPath>
<g clip-path="url(#cp1)"><g filter="url(#s1)"><rect x="37.5" y="204.7" width="157.0" height="121.8" fill="#808080"/>
<circle cx="54.7" cy="255" r="6.8" fill="url(#pk)" opacity="0.50"/><circle cx="69" cy="246.7" r="6.1" fill="url(#pk)" opacity="0.50"/><circle cx="78.7" cy="238.3" r="5.4" fill="url(#pk)" opacity="0.50"/><circle cx="117" cy="257.4" r="6.8" fill="url(#pk)" opacity="0.50"/><circle cx="101.4" cy="252.6" r="5.4" fill="url(#pk)" opacity="0.50"/><circle cx="121.7" cy="283.7" r="5.4" fill="url(#pk)" opacity="0.50"/><circle cx="106.2" cy="276.6" r="5.4" fill="url(#pk)" opacity="0.50"/><circle cx="97.8" cy="295.7" r="5.4" fill="url(#pk)" opacity="0.50"/><circle cx="71.5" cy="259.8" r="5.4" fill="url(#pk)" opacity="0.50"/><circle cx="89.4" cy="279" r="5.4" fill="url(#pk)" opacity="0.50"/><circle cx="117" cy="309" r="5.4" fill="url(#pk)" opacity="0.50"/><circle cx="115.2" cy="257.4" r="5.4" fill="url(#pk)" opacity="0.50"/><circle cx="122.4" cy="221.5" r="5.4" fill="url(#pk)" opacity="0.50"/><circle cx="132" cy="215.6" r="5.4" fill="url(#pk)" opacity="0.50"/><circle cx="144" cy="231" r="5.4" fill="url(#pk)" opacity="0.50"/><circle cx="159.4" cy="243" r="5.4" fill="url(#pk)" opacity="0.50"/><circle cx="165.4" cy="264.6" r="5.4" fill="url(#pk)" opacity="0.50"/><circle cx="142.7" cy="275.4" r="5.4" fill="url(#pk)" opacity="0.50"/><circle cx="136.7" cy="251.4" r="5.4" fill="url(#pk)" opacity="0.50"/><circle cx="146.3" cy="256.2" r="5.4" fill="url(#pk)" opacity="0.50"/><circle cx="122.4" cy="283.7" r="5.4" fill="url(#pk)" opacity="0.50"/><circle cx="184.6" cy="250.2" r="5.4" fill="url(#pk)" opacity="0.50"/><circle cx="112.8" cy="243" r="5.4" fill="url(#pk)" opacity="0.50"/>
<circle cx="58.3" cy="267" r="6.1" fill="url(#vl)" opacity="0.33"/><circle cx="81" cy="264.6" r="6.8" fill="url(#vl)" opacity="0.33"/><circle cx="107.4" cy="292" r="7.4" fill="url(#vl)" opacity="0.33"/><circle cx="94.2" cy="226.3" r="6.8" fill="url(#vl)" opacity="0.33"/><circle cx="66.7" cy="274.2" r="6.8" fill="url(#vl)" opacity="0.33"/><circle cx="117" cy="238.3" r="6.1" fill="url(#vl)" opacity="0.33"/><circle cx="107.4" cy="233.5" r="6.1" fill="url(#vl)" opacity="0.33"/><circle cx="115.2" cy="218" r="6.8" fill="url(#vl)" opacity="0.33"/><circle cx="141.5" cy="221.5" r="6.8" fill="url(#vl)" opacity="0.33"/><circle cx="172.6" cy="256.2" r="9.5" fill="url(#vl)" opacity="0.33"/><circle cx="144" cy="267" r="6.8" fill="url(#vl)" opacity="0.33"/><circle cx="138" cy="263.4" r="6.1" fill="url(#vl)" opacity="0.33"/><circle cx="165.4" cy="238.3" r="6.8" fill="url(#vl)" opacity="0.33"/><circle cx="111.6" cy="292" r="6.1" fill="url(#vl)" opacity="0.33"/><circle cx="155.8" cy="271.8" r="7.4" fill="url(#vl)" opacity="0.33"/><circle cx="160" cy="255" r="5.4" fill="url(#vl)" opacity="0.33"/><circle cx="128" cy="300" r="6.8" fill="url(#vl)" opacity="0.33"/>

</g></g>
<rect x="93.2" y="238" width="40.8" height="28.0" fill="none" stroke="#ffffff" stroke-width="1.5" stroke-dasharray="4.3 2.2"/>
<rect x="234.3" y="184.4" width="6" height="146.0" fill="url(#cbar)" stroke="#555" stroke-width="0.35"/>
<text class="cb" x="244.3" y="180.0">mm</text>
<path d="M240.3,184.40 h2" stroke="#444" stroke-width="0.4"/>
<text class="cb" x="244.6" y="185.80">3</text>
<path d="M240.3,205.26 h2" stroke="#444" stroke-width="0.4"/>
<text class="cb" x="244.6" y="206.66">2</text>
<path d="M240.3,226.11 h2" stroke="#444" stroke-width="0.4"/>
<text class="cb" x="244.6" y="227.51">1</text>
<path d="M240.3,246.97 h2" stroke="#444" stroke-width="0.4"/>
<text class="cb" x="244.6" y="248.37">0</text>
<path d="M240.3,267.83 h2" stroke="#444" stroke-width="0.4"/>
<text class="cb" x="244.6" y="269.23">-1</text>
<path d="M240.3,288.69 h2" stroke="#444" stroke-width="0.4"/>
<text class="cb" x="244.6" y="290.09">-2</text>
<path d="M240.3,309.54 h2" stroke="#444" stroke-width="0.4"/>
<text class="cb" x="244.6" y="310.94">-3</text>
<path d="M240.3,330.40 h2" stroke="#444" stroke-width="0.4"/>
<text class="cb" x="244.6" y="331.80">-4</text>
<path d="M240.3,184.40 h1 M240.3,188.57 h1 M240.3,192.74 h1 M240.3,196.91 h1 M240.3,201.09 h1 M240.3,205.26 h1 M240.3,209.43 h1 M240.3,213.60 h1 M240.3,217.77 h1 M240.3,221.94 h1 M240.3,226.11 h1 M240.3,230.29 h1 M240.3,234.46 h1 M240.3,238.63 h1 M240.3,242.80 h1 M240.3,246.97 h1 M240.3,251.14 h1 M240.3,255.31 h1 M240.3,259.49 h1 M240.3,263.66 h1 M240.3,267.83 h1 M240.3,272.00 h1 M240.3,276.17 h1 M240.3,280.34 h1 M240.3,284.51 h1 M240.3,288.69 h1 M240.3,292.86 h1 M240.3,297.03 h1 M240.3,301.20 h1 M240.3,305.37 h1 M240.3,309.54 h1 M240.3,313.71 h1 M240.3,317.89 h1 M240.3,322.06 h1 M240.3,326.23 h1 M240.3,330.40 h1" stroke="#666" stroke-width="0.3"/>
<clipPath id="ci1"><rect x="264.6" y="268.4" width="107" height="71.2"/></clipPath>
<g clip-path="url(#ci1)"><g filter="url(#z1)"><rect x="258.6" y="262.4" width="119" height="83.2" fill="#808080"/>
<circle cx="312.6" cy="272.4" r="10.8" fill="url(#pk)" opacity="1.00"/><circle cx="312.6" cy="272.4" r="10.8" fill="url(#pk)" opacity="0.30"/><circle cx="299.2" cy="283" r="10.8" fill="url(#pk)" opacity="1.00"/><circle cx="299.2" cy="283" r="10.8" fill="url(#pk)" opacity="0.20"/><circle cx="330.5" cy="284.4" r="9.0" fill="url(#pk)" opacity="1.00"/><circle cx="347" cy="286" r="9.9" fill="url(#pk)" opacity="1.00"/><circle cx="347" cy="286" r="9.9" fill="url(#pk)" opacity="0.10"/><circle cx="272.4" cy="306.7" r="12.6" fill="url(#pk)" opacity="1.00"/><circle cx="272.4" cy="306.7" r="12.6" fill="url(#pk)" opacity="0.40"/><circle cx="357.3" cy="303.7" r="10.8" fill="url(#pk)" opacity="1.00"/><circle cx="357.3" cy="303.7" r="10.8" fill="url(#pk)" opacity="0.30"/><circle cx="306.7" cy="314.2" r="15.3" fill="url(#pk)" opacity="1.00"/><circle cx="306.7" cy="314.2" r="15.3" fill="url(#pk)" opacity="0.30"/><circle cx="305.2" cy="326" r="10.8" fill="url(#pk)" opacity="1.00"/><circle cx="305.2" cy="326" r="10.8" fill="url(#pk)" opacity="0.10"/><circle cx="324.6" cy="335" r="9.9" fill="url(#pk)" opacity="1.00"/><circle cx="339.4" cy="294.8" r="9.0" fill="url(#pk)" opacity="0.70"/><circle cx="320" cy="300" r="8.1" fill="url(#pk)" opacity="0.60"/><circle cx="290" cy="322" r="8.1" fill="url(#pk)" opacity="0.60"/>
<circle cx="287.3" cy="284.4" r="9.0" fill="url(#vl)" opacity="0.62"/><circle cx="271" cy="294.8" r="7.5" fill="url(#vl)" opacity="0.56"/><circle cx="360.3" cy="271" r="8.2" fill="url(#vl)" opacity="0.62"/><circle cx="269.4" cy="335" r="7.5" fill="url(#vl)" opacity="0.56"/><circle cx="340" cy="320" r="7.5" fill="url(#vl)" opacity="0.37"/><circle cx="285" cy="300" r="6.8" fill="url(#vl)" opacity="0.37"/>
</g></g>
<text class="mm" x="268.6" y="348.9">10 mm</text>
<path d="M262.3,351.2 H296.2" stroke="#262626" stroke-width="1.1"/>
<path d="M267.60,351.2 v8.2 M269.75,351.2 v8.2 M271.90,351.2 v8.2 M274.05,351.2 v8.2 M276.20,351.2 v8.2 M278.35,351.2 v12.2 M280.50,351.2 v8.2 M282.65,351.2 v8.2 M284.80,351.2 v8.2 M286.95,351.2 v8.2 M289.10,351.2 v8.2 M291.25,351.2 v8.2 M293.40,351.2 v8.2 M295.55,351.2 v8.2" stroke="#262626" stroke-width="1.0"/>
<path d="M267.5,351.2 v15.8 M289.1,351.2 v15.8" stroke="#ee4a4a" stroke-width="0.9"/>
<text class="rd" x="264.4" y="377.4">0</text>
<text class="rd" x="286.2" y="377.4">1</text>
<rect x="4.2" y="342.5" width="226" height="167.5" fill="#f8f8f8"/>
<path d="M258.6,342.5 H4.2 V510.0" fill="none" stroke="#9a9a9a" stroke-width="0.9"/>
<path d="M4.2,510.0 H256.6" fill="none" stroke="#e4e4e4" stroke-width="0.8"/>
<text class="lab" x="8.4" y="355.8">0.35</text>
<linearGradient id="wl2" gradientUnits="userSpaceOnUse" x1="41.9" y1="424.7" x2="123.4" y2="371.4"><stop offset="0" stop-color="#8c8c8c"/><stop offset="0.22" stop-color="#aaaaaa"/><stop offset="0.6" stop-color="#cdcdcd"/><stop offset="1" stop-color="#ececec"/></linearGradient>
<linearGradient id="wr2" gradientUnits="userSpaceOnUse" x1="123.4" y1="371.4" x2="189.3" y2="415.6"><stop offset="0" stop-color="#9a9a9a"/><stop offset="0.35" stop-color="#c2c2c2"/><stop offset="0.7" stop-color="#e6e6e6"/><stop offset="1" stop-color="#f4f4f4"/></linearGradient>
<polygon points="41.9,424.7 123.4,371.4 123.4,384.8 43.5,435.1" fill="url(#wl2)"/>
<polygon points="123.4,371.4 189.3,415.6 188.5,423.6 123.4,384.8" fill="url(#wr2)"/>
<path d="M41.9,424.7 L123.4,371.4 L189.3,415.6 M123.4,371.4 v10.4" fill="none" stroke="#a4a4a4" stroke-width="0.45"/>
<path d="M55.5,415.8 v10.4 M69.1,406.9 v10.4 M82.7,398.1 v10.4 M96.2,389.2 v10.4 M109.8,380.3 v10.4" stroke="#dcdcdc" stroke-width="0.4" fill="none"/>
<path d="M136.6,380.2 v9.4 M149.8,389.1 v9.4 M162.9,397.9 v9.4 M176.1,406.8 v9.4" stroke="#b4b4b4" stroke-width="0.4" fill="none"/>
<polygon points="41.9,424.7 43.5,432.1 111.0,490.2 110.5,496.4 44.6,434.3" fill="#d2d2d2"/>
<polygon points="111.0,490.2 188.5,420.6 189.3,415.6 188.3,425.8 110.5,496.4" fill="#e6e6e6"/>
<path d="M41.9,424.7 L44.6,434.3 L110.5,496.4 L188.3,425.8 L189.3,415.6" fill="none" stroke="#b4b4b4" stroke-width="0.4"/>
<path d="M111.0,490.2 L110.5,496.4" stroke="#bdbdbd" stroke-width="0.4"/>
<path d="M43.6,435.4 L109.5,497.5" stroke="#8a8a8a" stroke-width="2.2" stroke-dasharray="0.4 1.5" fill="none"/>
<path d="M111.5,497.5 L189.3,426.9" stroke="#8a8a8a" stroke-width="2.2" stroke-dasharray="0.4 1.5" fill="none"/>
<text class="tk" text-anchor="middle" transform="translate(40.8,445.9) rotate(42)" x="0" y="1.4">0</text>
<text class="tk" text-anchor="middle" transform="translate(52.0,455.9) rotate(42)" x="0" y="1.4">20</text>
<text class="tk" text-anchor="middle" transform="translate(63.9,467.3) rotate(42)" x="0" y="1.4">40</text>
<text class="tk" text-anchor="middle" transform="translate(65.3,480.1) rotate(42)" x="0" y="1.4">mm</text>
<text class="tk" text-anchor="middle" transform="translate(76.4,478.5) rotate(42)" x="0" y="1.4">60</text>
<text class="tk" text-anchor="middle" transform="translate(89.2,490.7) rotate(42)" x="0" y="1.4">80</text>
<text class="tk" text-anchor="middle" transform="translate(103.0,503.9) rotate(42)" x="0" y="1.4">100</text>
<text class="tk" text-anchor="middle" transform="translate(116.7,503.9) rotate(-42)" x="0" y="1.4">0</text>
<text class="tk" text-anchor="middle" transform="translate(130.8,491.1) rotate(-42)" x="0" y="1.4">20</text>
<text class="tk" text-anchor="middle" transform="translate(145.2,478.5) rotate(-42)" x="0" y="1.4">40</text>
<text class="tk" text-anchor="middle" transform="translate(157.9,467.3) rotate(-42)" x="0" y="1.4">60</text>
<text class="tk" text-anchor="middle" transform="translate(164.2,473.5) rotate(-42)" x="0" y="1.4">mm</text>
<text class="tk" text-anchor="middle" transform="translate(170.7,456.1) rotate(-42)" x="0" y="1.4">80</text>
<text class="tk" text-anchor="middle" transform="translate(182.4,445.5) rotate(-42)" x="0" y="1.4">100</text>
<text class="tk" text-anchor="middle" transform="translate(193.0,435.9) rotate(-42)" x="0" y="1.4">120</text>
<text class="tk" text-anchor="middle" transform="translate(34.6,426.2) rotate(0)" x="0" y="1.4">3</text>
<text class="tk" text-anchor="middle" transform="translate(36.2,432.7) rotate(0)" x="0" y="1.4">0</text>
<text class="tk" text-anchor="middle" transform="translate(37.8,440.5) rotate(0)" x="0" y="1.4">-4</text>
<text class="tk" text-anchor="middle" transform="translate(26.0,434.3) rotate(0)" x="0" y="1.4">mm</text>
<clipPath id="cp2"><polygon points="43.5,432.1 44.9,430.5 46.2,430.1 47.6,428.8 48.9,428.2 50.3,427.6 51.6,426.7 53.0,425.9 54.3,425.1 55.7,423.4 57.0,423.5 58.4,422.5 59.8,421.8 61.1,420.2 62.5,419.6 63.8,419.0 65.2,417.9 66.5,416.8 67.9,416.1 69.2,415.5 70.6,414.8 71.9,414.1 73.3,413.3 74.6,411.9 76.0,411.6 77.4,410.0 78.7,409.7 80.1,408.8 81.4,407.9 82.8,406.8 84.1,405.6 85.5,405.3 86.8,404.4 88.2,403.9 89.5,402.6 90.9,402.1 92.3,401.2 93.6,399.7 95.0,399.0 96.3,398.2 97.7,397.8 99.0,396.9 100.4,396.1 101.7,395.3 103.1,394.5 104.4,393.4 105.8,392.0 107.1,391.3 108.5,390.9 109.9,390.3 111.2,388.5 112.6,388.5 113.9,387.5 115.3,386.1 116.6,385.7 118.0,385.0 119.3,383.8 120.7,383.3 122.0,381.7 123.4,381.8 124.8,382.4 126.2,383.4 127.6,383.2 128.9,385.0 130.3,385.7 131.7,385.8 133.1,386.6 134.5,387.7 135.9,388.3 137.3,389.3 138.6,390.0 140.0,391.5 141.4,392.0 142.8,393.0 144.2,393.2 145.6,394.4 146.9,395.7 148.3,396.3 149.7,396.9 151.1,398.1 152.5,398.4 153.9,399.9 155.3,400.2 156.6,400.7 158.0,402.2 159.4,402.5 160.8,403.3 162.2,404.1 163.6,405.6 165.0,406.2 166.3,406.9 167.7,408.0 169.1,408.5 170.5,409.2 171.9,410.2 173.3,411.0 174.6,411.7 176.0,413.1 177.4,413.3 178.8,414.1 180.2,415.6 181.6,415.7 183.0,417.0 184.3,417.5 185.7,418.1 187.1,419.0 188.5,420.6 187.3,422.6 186.1,423.1 184.9,424.9 183.7,426.3 182.5,427.2 181.3,427.1 180.2,429.6 179.0,429.9 177.8,431.1 176.6,431.8 175.4,433.0 174.2,434.7 173.0,435.2 171.8,437.0 170.6,437.1 169.4,437.8 168.2,439.8 167.0,440.6 165.8,441.8 164.7,442.7 163.5,444.2 162.3,445.5 161.1,446.2 159.9,447.7 158.7,448.5 157.5,448.6 156.3,449.8 155.1,450.6 153.9,452.8 152.7,454.1 151.5,454.3 150.3,456.0 149.2,457.2 148.0,457.1 146.8,458.9 145.6,460.3 144.4,461.7 143.2,461.5 142.0,463.0 140.8,463.6 139.6,465.8 138.4,465.6 137.2,468.0 136.0,469.0 134.8,469.6 133.7,470.6 132.5,472.3 131.3,473.4 130.1,473.1 128.9,474.3 127.7,475.5 126.5,476.4 125.3,478.1 124.1,479.7 122.9,480.7 121.7,481.2 120.5,483.0 119.3,482.9 118.2,485.1 117.0,485.4 115.8,487.1 114.6,487.8 113.4,488.5 112.2,490.0 111.0,490.2 109.8,490.2 108.5,489.4 107.3,488.0 106.1,487.4 104.9,485.8 103.6,485.0 102.4,483.9 101.2,482.2 100.0,480.8 98.7,480.1 97.5,480.0 96.3,478.3 95.0,476.5 93.8,476.3 92.6,475.6 91.4,473.9 90.1,472.7 88.9,471.2 87.7,470.7 86.5,470.3 85.2,469.4 84.0,467.5 82.8,467.4 81.5,466.3 80.3,463.9 79.1,464.3 77.9,462.7 76.6,462.1 75.4,459.7 74.2,460.0 73.0,458.8 71.7,456.5 70.5,456.4 69.3,454.6 68.0,453.4 66.8,452.3 65.6,451.5 64.4,451.0 63.1,450.5 61.9,448.8 60.7,447.4 59.5,446.8 58.2,445.5 57.0,444.7 55.8,443.2 54.5,442.9 53.3,441.6 52.1,439.9 50.9,439.1 49.6,438.7 48.4,437.4 47.2,436.4 46.0,435.4 44.7,433.9"/></clipPath>
<g clip-path="url(#cp2)"><g filter="url(#s2)"><rect x="37.5" y="375.8" width="157.0" height="120.4" fill="#808080"/>
<circle cx="88.2" cy="409.5" r="6.8" fill="url(#pk)" opacity="0.40"/><circle cx="107.4" cy="389" r="6.8" fill="url(#pk)" opacity="0.40"/><circle cx="119.3" cy="384.4" r="6.8" fill="url(#pk)" opacity="0.40"/><circle cx="95.4" cy="437" r="6.8" fill="url(#pk)" opacity="0.40"/><circle cx="90.6" cy="431" r="6.1" fill="url(#pk)" opacity="0.40"/><circle cx="109.8" cy="427.4" r="6.8" fill="url(#pk)" opacity="0.40"/><circle cx="81" cy="452.5" r="6.8" fill="url(#pk)" opacity="0.40"/><circle cx="94.2" cy="458.5" r="6.8" fill="url(#pk)" opacity="0.40"/><circle cx="112.2" cy="463.3" r="6.8" fill="url(#pk)" opacity="0.40"/><circle cx="114.6" cy="473" r="6.1" fill="url(#pk)" opacity="0.40"/><circle cx="64.3" cy="421.4" r="6.8" fill="url(#pk)" opacity="0.40"/><circle cx="102.6" cy="406" r="6.1" fill="url(#pk)" opacity="0.40"/><circle cx="117" cy="439.4" r="6.1" fill="url(#pk)" opacity="0.40"/><circle cx="122.4" cy="394" r="6.8" fill="url(#pk)" opacity="0.40"/><circle cx="132" cy="401" r="6.8" fill="url(#pk)" opacity="0.40"/><circle cx="141.5" cy="414.3" r="6.8" fill="url(#pk)" opacity="0.40"/><circle cx="150" cy="411" r="5.4" fill="url(#pk)" opacity="0.40"/><circle cx="131" cy="418" r="5.4" fill="url(#pk)" opacity="0.40"/><circle cx="136.7" cy="406" r="6.1" fill="url(#pk)" opacity="0.40"/><circle cx="153.5" cy="431" r="6.8" fill="url(#pk)" opacity="0.40"/><circle cx="144" cy="440.6" r="6.8" fill="url(#pk)" opacity="0.40"/><circle cx="164.2" cy="423.8" r="6.8" fill="url(#pk)" opacity="0.40"/><circle cx="127.1" cy="464.5" r="6.8" fill="url(#pk)" opacity="0.40"/><circle cx="112.8" cy="468" r="6.1" fill="url(#pk)" opacity="0.40"/><circle cx="132" cy="421.4" r="6.1" fill="url(#pk)" opacity="0.40"/><circle cx="150" cy="396.3" r="6.1" fill="url(#pk)" opacity="0.40"/><circle cx="177.4" cy="417.8" r="6.1" fill="url(#pk)" opacity="0.40"/><circle cx="120" cy="427.4" r="6.1" fill="url(#pk)" opacity="0.40"/><circle cx="136.7" cy="458.5" r="6.1" fill="url(#pk)" opacity="0.40"/>
<circle cx="73.9" cy="415.5" r="6.1" fill="url(#vl)" opacity="0.28"/><circle cx="71.5" cy="440.6" r="6.1" fill="url(#vl)" opacity="0.28"/><circle cx="94.2" cy="406" r="6.1" fill="url(#vl)" opacity="0.28"/><circle cx="105" cy="455" r="6.1" fill="url(#vl)" opacity="0.28"/><circle cx="120.5" cy="476.5" r="6.1" fill="url(#vl)" opacity="0.28"/><circle cx="56" cy="431" r="6.8" fill="url(#vl)" opacity="0.28"/><circle cx="109.8" cy="413" r="6.1" fill="url(#vl)" opacity="0.28"/><circle cx="111.6" cy="414.3" r="6.1" fill="url(#vl)" opacity="0.28"/><circle cx="134.3" cy="435.8" r="6.8" fill="url(#vl)" opacity="0.28"/><circle cx="158.2" cy="416.7" r="6.8" fill="url(#vl)" opacity="0.28"/><circle cx="148.7" cy="446.6" r="6.8" fill="url(#vl)" opacity="0.28"/><circle cx="167.8" cy="434.6" r="6.8" fill="url(#vl)" opacity="0.28"/><circle cx="124.7" cy="479" r="6.1" fill="url(#vl)" opacity="0.28"/><circle cx="151" cy="403.5" r="6.1" fill="url(#vl)" opacity="0.28"/><circle cx="122.4" cy="385.6" r="6.1" fill="url(#vl)" opacity="0.28"/><circle cx="175" cy="426.2" r="6.8" fill="url(#vl)" opacity="0.28"/>

</g></g>
<rect x="83.2" y="419.8" width="40.4" height="28.0" fill="none" stroke="#ffffff" stroke-width="1.5" stroke-dasharray="4.3 2.2"/>
<rect x="234.3" y="353.9" width="6" height="146.0" fill="url(#cbar)" stroke="#555" stroke-width="0.35"/>
<text class="cb" x="244.3" y="349.5">mm</text>
<path d="M240.3,353.90 h2" stroke="#444" stroke-width="0.4"/>
<text class="cb" x="244.6" y="355.30">3</text>
<path d="M240.3,374.76 h2" stroke="#444" stroke-width="0.4"/>
<text class="cb" x="244.6" y="376.16">2</text>
<path d="M240.3,395.61 h2" stroke="#444" stroke-width="0.4"/>
<text class="cb" x="244.6" y="397.01">1</text>
<path d="M240.3,416.47 h2" stroke="#444" stroke-width="0.4"/>
<text class="cb" x="244.6" y="417.87">0</text>
<path d="M240.3,437.33 h2" stroke="#444" stroke-width="0.4"/>
<text class="cb" x="244.6" y="438.73">-1</text>
<path d="M240.3,458.19 h2" stroke="#444" stroke-width="0.4"/>
<text class="cb" x="244.6" y="459.59">-2</text>
<path d="M240.3,479.04 h2" stroke="#444" stroke-width="0.4"/>
<text class="cb" x="244.6" y="480.44">-3</text>
<path d="M240.3,499.90 h2" stroke="#444" stroke-width="0.4"/>
<text class="cb" x="244.6" y="501.30">-4</text>
<path d="M240.3,353.90 h1 M240.3,358.07 h1 M240.3,362.24 h1 M240.3,366.41 h1 M240.3,370.59 h1 M240.3,374.76 h1 M240.3,378.93 h1 M240.3,383.10 h1 M240.3,387.27 h1 M240.3,391.44 h1 M240.3,395.61 h1 M240.3,399.79 h1 M240.3,403.96 h1 M240.3,408.13 h1 M240.3,412.30 h1 M240.3,416.47 h1 M240.3,420.64 h1 M240.3,424.81 h1 M240.3,428.99 h1 M240.3,433.16 h1 M240.3,437.33 h1 M240.3,441.50 h1 M240.3,445.67 h1 M240.3,449.84 h1 M240.3,454.01 h1 M240.3,458.19 h1 M240.3,462.36 h1 M240.3,466.53 h1 M240.3,470.70 h1 M240.3,474.87 h1 M240.3,479.04 h1 M240.3,483.21 h1 M240.3,487.39 h1 M240.3,491.56 h1 M240.3,495.73 h1 M240.3,499.90 h1" stroke="#666" stroke-width="0.3"/>
<clipPath id="ci2"><rect x="264.6" y="438.1" width="107" height="71.2"/></clipPath>
<g clip-path="url(#ci2)"><g filter="url(#z2)"><rect x="258.6" y="432.1" width="119" height="83.2" fill="#808080"/>
<circle cx="297.7" cy="447" r="14.2" fill="url(#pk)" opacity="1.00"/><circle cx="277" cy="444" r="11.4" fill="url(#pk)" opacity="0.80"/><circle cx="272.4" cy="457.3" r="11.4" fill="url(#pk)" opacity="0.80"/><circle cx="300.7" cy="463.3" r="15.2" fill="url(#pk)" opacity="0.90"/><circle cx="321.6" cy="470.7" r="13.3" fill="url(#pk)" opacity="0.90"/><circle cx="345.4" cy="464.8" r="16.1" fill="url(#pk)" opacity="1.00"/><circle cx="363.3" cy="464.8" r="12.3" fill="url(#pk)" opacity="0.90"/><circle cx="271" cy="488.6" r="14.2" fill="url(#pk)" opacity="1.00"/><circle cx="306.7" cy="482.7" r="13.3" fill="url(#pk)" opacity="0.90"/><circle cx="335" cy="487" r="13.3" fill="url(#pk)" opacity="0.90"/><circle cx="354.3" cy="490" r="12.3" fill="url(#pk)" opacity="0.90"/><circle cx="317" cy="490" r="11.4" fill="url(#pk)" opacity="0.80"/><circle cx="288" cy="500" r="11.4" fill="url(#pk)" opacity="0.70"/><circle cx="330" cy="452" r="9.5" fill="url(#pk)" opacity="0.60"/>
<circle cx="309.7" cy="448.4" r="9.0" fill="url(#vl)" opacity="0.81"/><circle cx="361.8" cy="493" r="8.2" fill="url(#vl)" opacity="0.68"/><circle cx="268" cy="462" r="6.8" fill="url(#vl)" opacity="0.56"/><circle cx="333.5" cy="444" r="7.5" fill="url(#vl)" opacity="0.43"/><circle cx="285" cy="475" r="7.5" fill="url(#vl)" opacity="0.37"/><circle cx="322" cy="458" r="6.8" fill="url(#vl)" opacity="0.37"/><circle cx="348" cy="478" r="6.8" fill="url(#vl)" opacity="0.43"/>
</g></g>
<text class="mm" x="268.6" y="518.7">10 mm</text>
<path d="M262.3,521.0 H296.2" stroke="#262626" stroke-width="1.1"/>
<path d="M267.60,521.0 v8.2 M269.75,521.0 v8.2 M271.90,521.0 v8.2 M274.05,521.0 v8.2 M276.20,521.0 v8.2 M278.35,521.0 v12.2 M280.50,521.0 v8.2 M282.65,521.0 v8.2 M284.80,521.0 v8.2 M286.95,521.0 v8.2 M289.10,521.0 v8.2 M291.25,521.0 v8.2 M293.40,521.0 v8.2 M295.55,521.0 v8.2" stroke="#262626" stroke-width="1.0"/>
<path d="M267.5,521.0 v15.8 M289.1,521.0 v15.8" stroke="#ee4a4a" stroke-width="0.9"/>
<text class="rd" x="264.4" y="547.2">0</text>
<text class="rd" x="286.2" y="547.2">1</text>
</svg></body></html>
